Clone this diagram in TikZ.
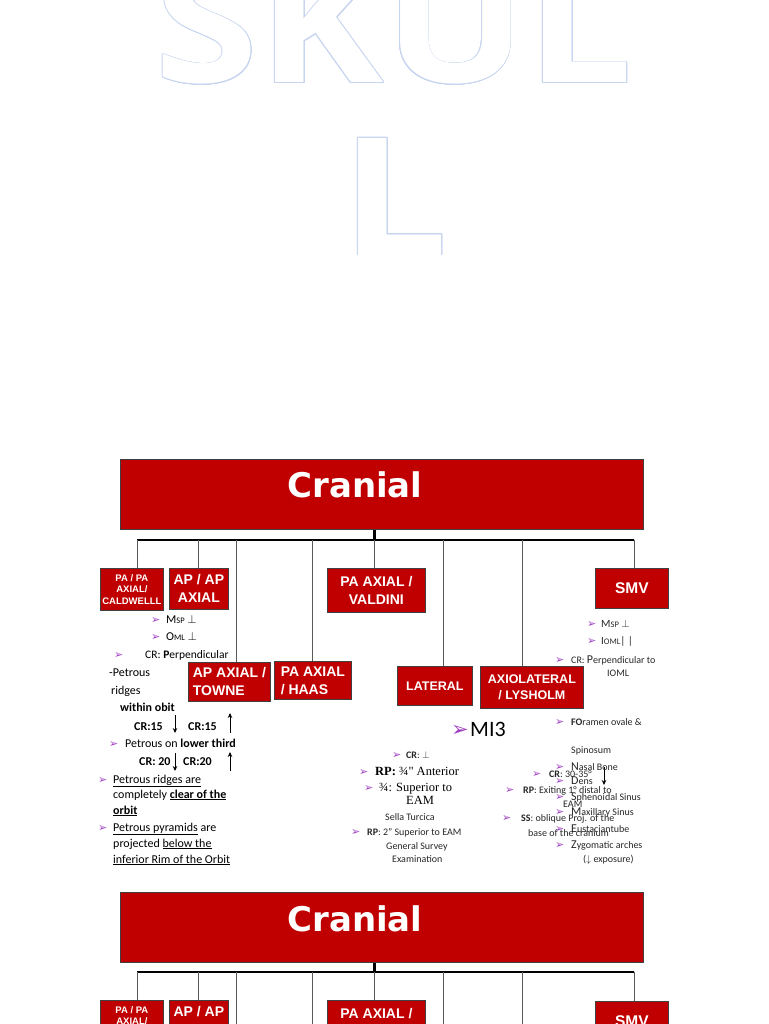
\documentclass[tikz,border=0pt]{standalone}
\usepackage{fontspec}
\setmainfont{Carlito}
\newfontfamily\boxfont{Liberation Sans}
\newfontfamily\headfont{DejaVu Sans}
\newfontfamily\symfont{DejaVu Sans}
\newfontfamily\serfont{Liberation Serif}
\newfontfamily\skulfont{Open Sans}
\usepackage{contour}
\contourlength{0.8pt}
\usetikzlibrary{positioning, calc, arrows.meta}
\definecolor{cranred}{HTML}{C00000}
\definecolor{bulpurple}{HTML}{A040C0}
\definecolor{ghostblue}{HTML}{C8D5F0}
\newcommand{\bul}[1]{\makebox[#1][l]{\symfont\color{bulpurple}\fontsize{11}{11}\selectfont ➢}}
\newcommand{\scap}[1]{{\fontsize{8.5}{9}\selectfont #1}}

\begin{document}
\begin{tikzpicture}[
  x=1pt, y=-1pt,
  cbox/.style={draw=black!75, line width=0.8pt, fill=cranred, text=white, inner sep=0pt, anchor=north west, align=center, font=\boxfont\bfseries\fontsize{14}{18}\selectfont},
  head/.style={cbox, minimum width=523, minimum height=70},
  title/.style={text=white, inner sep=0pt, anchor=base, font=\headfont\bfseries\fontsize{34}{40}\selectfont},
  ghost/.style={text=white, inner sep=0pt, anchor=base, font=\skulfont\bfseries\fontsize{164}{172}\selectfont},
  stem/.style={line width=3pt},
  bar/.style={line width=1.8pt},
  drop/.style={draw=black!65, line width=0.9pt},
  tip/.style={-{Stealth[length=5pt, width=4.5pt]}, line width=1pt},
  txt/.style={anchor=base west, inner sep=0pt, font=\fontsize{12}{16}\selectfont},
  small/.style={anchor=base west, inner sep=0pt, text=black!85, font=\fontsize{10}{13}\selectfont},
  serif/.style={anchor=base west, inner sep=0pt, font=\serfont\fontsize{12.5}{15}\selectfont},
]
  \useasboundingbox (0,0) rectangle (768,1024);
  \clip (0,0) rectangle (768,1024);

  % ghost title
  \node[ghost] (skul) at (394,83) {\scalebox{1.15}[1]{\contour{ghostblue}{SKUL}}};
  \node[ghost] (skulL) at (395,255) {\scalebox{1.15}[1]{\contour{ghostblue}{L}}};

  % upper chart
  \node[head] (cranial) at (120,459) {};
  \node[title] (cranialT) at (355,497) {Cranial};

  \node[cbox, minimum width=63, minimum height=42, font=\boxfont\bfseries\fontsize{9.5}{11.5}\selectfont] (caldwell) at (100,568) {PA / PA\\AXIAL/\\CALDWELLL};
  \node[cbox, minimum width=59, minimum height=41] (apap) at (169,568) {AP / AP\\AXIAL};
  \node[cbox, minimum width=98, minimum height=44] (valdini) at (327,568) {PA AXIAL /\\VALDINI};
  \node[cbox, minimum width=73, minimum height=40, font=\boxfont\bfseries\fontsize{15.5}{18}\selectfont] (smv) at (595,568) {SMV};
  \node[cbox, minimum width=82, minimum height=39, align=left] (towne) at (188,662) {AP AXIAL /\\TOWNE};
  \node[cbox, minimum width=77, minimum height=38, align=left] (haas) at (274,661) {PA AXIAL\\/ HAAS};
  \node[cbox, minimum width=75, minimum height=39, font=\boxfont\bfseries\fontsize{12.5}{16}\selectfont] (lateral) at (397,666) {LATERAL};
  \node[cbox, minimum width=103, minimum height=42, font=\boxfont\bfseries\fontsize{12.5}{16}\selectfont] (axiolat) at (480,666) {AXIOLATERAL\\/ LYSHOLM};

  \coordinate (hubA) at (374,540);
  \coordinate (barAl) at (137,540);
  \coordinate (barAr) at (634,540);
  \draw[stem] (cranial.south -| hubA) -- (hubA);
  \draw[bar] (barAl) -- (barAr);
  \draw[drop] (barAl) -- (barAl |- caldwell.north);
  \draw[drop] (hubA -| apap.north) -- (apap.north);
  \draw[drop] ([xshift=7pt]towne.north |- hubA) -- ([xshift=7pt]towne.north);
  \draw[drop] (hubA -| haas.north) -- (haas.north);
  \draw[drop] (hubA) -- (hubA |- valdini.north);
  \draw[drop] ([xshift=8.5pt]lateral.north |- hubA) -- ([xshift=8.5pt]lateral.north);
  \draw[drop] ([xshift=-9.5pt]axiolat.north |- hubA) -- ([xshift=-9.5pt]axiolat.north);
  \draw[drop] (barAr) -- (barAr |- smv.north);

  % caldwell / towne notes
  \node[txt] (mspA) at (151,623) {\bul{15pt}M\scap{SP} $\perp$};
  \node[txt] (omlA) at (151,640) {\bul{15pt}O\scap{ML} $\perp$};
  \node[txt, font=\fontsize{11.5}{14}\selectfont] (perpA) at (114,658) {\bul{31pt}CR: \textbf{P}erpendicular};
  \node[txt] (petA) at (109,676) {-Petrous};
  \node[txt] (ridA) at (111,694) {ridges};
  \node[txt] (obit) at (120,711) {\textbf{within obit}};
  \node[txt] (cr15a) at (134,730) {\textbf{CR:15}};
  \node[txt] (cr15b) at (188,730) {\textbf{CR:15}};
  \node[txt] (lower) at (109,747) {\bul{16pt}Petrous on \textbf{lower third}};
  \node[txt] (cr20a) at (139,765) {\textbf{CR: 20}};
  \node[txt] (cr20b) at (183,765) {\textbf{CR:20}};
  \node[txt] (clrA) at (98,783) {\bul{15pt}\underline{Petrous ridges are}};
  \node[txt] (clrB) at (113,798) {completely \textbf{\underline{clear of the}}};
  \node[txt] (clrC) at (113,814) {\textbf{\underline{orbit}}};
  \node[txt] (pyrA) at (98,831) {\bul{15pt}\underline{Petrous pyramids} are};
  \node[txt] (pyrB) at (113,847) {projected \underline{below the}};
  \node[txt] (pyrC) at (113,863) {\underline{inferior Rim of the Orbit}};

  \coordinate (dn15t) at (175,715); \coordinate (dn15b) at (175,733);
  \coordinate (up15b) at (230,733); \coordinate (up15t) at (230,713);
  \coordinate (dn20t) at (175,753); \coordinate (dn20b) at (175,771);
  \coordinate (up20b) at (230,771); \coordinate (up20t) at (230,752);
  \draw[tip] (dn15t) -- (dn15b);
  \draw[tip] (up15b) -- (up15t);
  \draw[tip] (dn20t) -- (dn20b);
  \draw[tip] (up20b) -- (up20t);

  % lateral notes
  \node[txt, font=\fontsize{22}{24}\selectfont] (mi3) at (451,736) {\makebox[19pt][l]{\symfont\color{bulpurple}\fontsize{21}{21}\selectfont ➢}MI3};
  \node[small] (crLat) at (392,758.5) {\bul{14pt}\textbf{CR}: $\perp$};
  \node[serif] (rpLat) at (359,775.5) {\bul{16pt}\textbf{RP:} ¾" Anterior};
  \node[serif] (supLat) at (364,791.5) {\bul{15pt}¾: Superior to};
  \node[serif] (eamLat) at (406,804.5) {EAM};
  \node[small] (sella) at (385,820.5) {Sella Turcica};
  \node[small] (rp2Lat) at (351,835.5) {\bul{16pt}\textbf{RP}: 2" Superior to EAM};
  \node[small] (gen) at (386,849.5) {General Survey};
  \node[small] (exam) at (392,862.5) {Examination};

  % lysholm notes
  \node[small] (crLys) at (532,777.5) {\bul{17pt}\textbf{CR}: 30-35°};
  \node[small] (rpLys) at (505,793.5) {\bul{18pt}\textbf{RP}: Exiting 1° distal to};
  \node[small] (eamLys) at (563,807.5) {EAM};
  \node[small] (ssLys) at (502,821.5) {\bul{19pt}\textbf{SS}: oblique Proj. of the};
  \node[small] (baseLys) at (528,836.5) {base of the cranium};
  \coordinate (dnLyst) at (604,767); \coordinate (dnLysb) at (604,785);
  \draw[tip] (dnLyst) -- (dnLysb);

  % smv notes
  \node[small, font=\fontsize{11}{13}\selectfont] (mspB) at (587,627) {\bul{14pt}M\scap{SP} $\perp$};
  \node[small, font=\fontsize{11}{13}\selectfont] (iomlB) at (587,644) {\bul{14pt}I\scap{OML}| |};
  \node[small] (perpB) at (555,663) {\bul{16pt}CR: {\large P}erpendicular to};
  \node[small] (iomlC) at (607,676.5) {IOML};
  \node[small] (foram) at (555,725.5) {\bul{16pt}\textbf{FO}ramen ovale \&};
  \node[small] (spin) at (571,753.5) {Spinosum};
  \node[small] (nasal) at (555,770.5) {\bul{16pt}{\large N}asal Bone};
  \node[small] (dens) at (555,784.5) {\bul{16pt}{\large D}ens};
  \node[small] (sphen) at (555,800.5) {\bul{16pt}{\large S}phenoidal Sinus};
  \node[small] (maxil) at (555,815.5) {\bul{16pt}{\large M}axillary Sinus};
  \node[small] (eust) at (555,832.5) {\bul{16pt}{\large E}ustaciantube};
  \node[small] (zyg) at (555,848.5) {\bul{16pt}{\large Z}ygomatic arches};
  \node[small] (expo) at (583,862.5) {($\downarrow$ exposure)};

  % lower chart (repeated, cut by the page)
  \node[head] (cranialB) at (120,892) {};
  \node[title] (cranialBT) at (355,931) {Cranial};
  \node[cbox, minimum width=63, minimum height=42, font=\boxfont\bfseries\fontsize{9.5}{11.5}\selectfont] (caldwellB) at (100,1000) {PA / PA\\AXIAL/\\CALDWELLL};
  \node[cbox, minimum width=59, minimum height=41] (apapB) at (169,1000) {AP / AP\\AXIAL};
  \node[cbox, minimum width=98, minimum height=44] (valdiniB) at (327,1000) {PA AXIAL /\\VALDINI};
  \node[cbox, minimum width=73, minimum height=40, font=\boxfont\bfseries\fontsize{15.5}{18}\selectfont] (smvB) at (595,1001) {SMV};

  \coordinate (hubB) at (374,972);
  \coordinate (barBl) at (137,972);
  \coordinate (barBr) at (634,972);
  \coordinate (endB) at (0,1030);
  \draw[stem] (cranialB.south -| hubB) -- (hubB);
  \draw[bar] (barBl) -- (barBr);
  \draw[drop] (barBl) -- (barBl |- caldwellB.north);
  \draw[drop] (hubB -| apapB.north) -- (apapB.north);
  \draw[drop] ([xshift=236pt]hubB -| endB) -- ([xshift=236pt]endB);
  \draw[drop] ([xshift=312pt]hubB -| endB) -- ([xshift=312pt]endB);
  \draw[drop] (hubB) -- (hubB |- valdiniB.north);
  \draw[drop] ([xshift=443pt]hubB -| endB) -- ([xshift=443pt]endB);
  \draw[drop] ([xshift=522pt]hubB -| endB) -- ([xshift=522pt]endB);
  \draw[drop] (barBr) -- (barBr |- smvB.north);
\end{tikzpicture}
\end{document}
